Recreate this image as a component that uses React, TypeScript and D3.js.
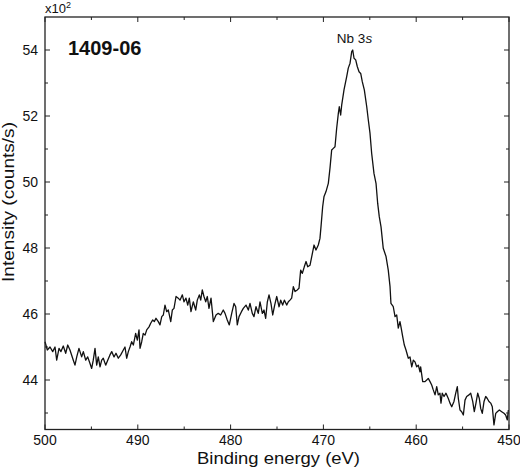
import * as d3 from "d3";

// binding energy (eV), intensity (x10^2 counts/s)
const background: [number, number][] = [
  [500.0, 45.16], [499.75, 44.91], [499.46, 45.0], [499.17, 44.86], [498.92, 45.0], [498.74, 44.6],
  [498.49, 44.96], [498.28, 44.86], [498.03, 45.03], [497.77, 44.81], [497.55, 45.06], [497.31, 44.91],
  [496.95, 44.6], [496.77, 44.45], [496.58, 44.7], [496.34, 44.96], [496.05, 44.7], [495.87, 44.86],
  [495.61, 44.6], [495.4, 44.7], [495.15, 44.5], [494.97, 44.35], [494.8, 44.6], [494.61, 44.96],
  [494.43, 44.45], [494.26, 44.7], [494.07, 44.4], [493.89, 44.6], [493.72, 44.66], [493.46, 44.45],
  [493.24, 44.6], [493.0, 44.76], [492.81, 44.86], [492.56, 44.7], [492.35, 44.81], [492.1, 44.66],
  [491.84, 44.76], [491.56, 44.91], [491.38, 45.0], [491.2, 44.66], [491.02, 44.86], [490.84, 45.0],
  [490.66, 45.16], [490.48, 45.06], [490.23, 45.41], [490.05, 45.21], [489.87, 45.52],
];

const shoulder: [number, number][] = [
  [489.76, 44.96], [489.58, 45.16], [489.41, 45.41], [489.22, 45.36], [489.04, 45.52], [488.79, 45.61],
  [488.61, 45.72], [488.39, 45.82], [488.22, 45.77], [488.04, 45.87], [487.79, 45.77], [487.61, 45.67],
  [487.42, 45.92], [487.25, 45.97], [487.07, 46.27], [486.89, 46.07], [486.71, 46.12], [486.45, 45.77],
  [486.28, 46.12], [486.1, 46.17], [485.88, 46.53], [485.64, 46.48], [485.45, 46.42], [485.2, 46.58],
  [485.02, 46.37], [484.81, 46.48], [484.62, 46.27], [484.45, 46.48], [484.27, 46.07], [484.02, 46.37],
  [483.76, 46.12], [483.59, 46.42], [483.37, 46.58], [483.22, 46.42], [483.05, 46.73], [482.87, 46.53],
  [482.68, 46.37], [482.51, 46.53], [482.33, 46.17], [482.11, 46.48], [481.86, 45.77], [481.57, 45.97],
  [481.33, 46.02], [481.07, 45.97], [480.79, 46.12], [480.6, 46.02], [480.36, 45.82], [480.14, 45.67],
  [479.88, 46.02], [479.63, 46.32], [479.45, 46.22], [479.28, 45.67], [479.09, 45.92],
];

const rise: [number, number][] = [
  [478.83, 46.07], [478.63, 46.17], [478.34, 46.27], [478.09, 46.12], [477.91, 46.32], [477.66, 46.02],
  [477.48, 45.92], [477.26, 46.22], [477.02, 46.02], [476.83, 46.37], [476.58, 46.02], [476.4, 46.12],
  [476.22, 45.87], [476.04, 46.37], [475.86, 46.58], [475.65, 46.32], [475.46, 45.97], [475.25, 46.27],
  [475.03, 46.53], [474.78, 46.22], [474.6, 46.42], [474.39, 46.27], [474.21, 46.42], [473.95, 46.27],
  [473.78, 46.37], [473.6, 46.42], [473.42, 46.48], [473.24, 46.83], [473.06, 46.68], [472.81, 46.73],
  [472.63, 46.78], [472.45, 47.33], [472.27, 47.23], [472.06, 47.43], [471.87, 47.59], [471.69, 47.43],
  [471.44, 47.48], [471.15, 47.89], [471.01, 48.09], [470.8, 47.94], [470.55, 48.09], [470.37, 48.29],
];

const peak: [number, number][] = [
  [470.26, 48.64], [470.08, 49.25], [469.94, 49.55], [469.72, 49.71], [469.47, 49.96], [469.29, 50.42],
  [469.11, 50.97], [468.93, 51.02], [468.75, 51.07], [468.57, 51.63], [468.39, 52.08], [468.29, 52.28],
  [468.14, 52.03], [468.03, 52.33], [467.78, 52.79], [467.49, 53.19], [467.32, 53.45], [467.13, 53.6],
  [466.95, 53.95], [466.84, 54.0], [466.7, 53.75], [466.52, 53.7], [466.35, 53.5], [466.16, 53.34],
  [465.98, 53.29], [465.81, 53.04], [465.59, 52.79], [465.33, 52.28], [465.16, 51.88], [464.98, 51.48],
  [464.8, 50.87], [464.55, 50.26], [464.33, 49.96], [464.15, 49.35], [463.98, 48.95], [463.79, 48.64],
];

const tail: [number, number][] = [
  [463.55, 47.99], [463.25, 47.74], [463.01, 47.33], [462.82, 46.83], [462.72, 46.32], [462.47, 46.22],
  [462.28, 45.92], [462.1, 45.97], [461.93, 45.57], [461.75, 45.77], [461.64, 45.61], [461.45, 45.31],
  [461.28, 45.06], [461.1, 44.91], [460.85, 44.66], [460.67, 44.7], [460.48, 44.4], [460.31, 44.6],
  [460.13, 44.55], [459.95, 44.4], [459.77, 44.45], [459.59, 44.25], [459.52, 44.4], [459.3, 43.95],
  [459.05, 43.95], [458.87, 44.0], [458.7, 44.05], [458.51, 43.95], [458.33, 43.85], [458.16, 43.7],
  [457.97, 43.55], [457.79, 43.8], [457.62, 43.55], [457.44, 43.6], [457.33, 43.3], [457.19, 43.6],
  [457.0, 43.5], [456.79, 43.6], [456.54, 43.44], [456.36, 43.3], [456.17, 43.19], [455.93, 43.35],
  [455.74, 43.6], [455.57, 43.8], [455.46, 43.44], [455.28, 43.09], [455.1, 43.04], [454.92, 42.94],
  [454.74, 43.39], [454.56, 43.5], [454.31, 43.55], [454.13, 43.6], [453.91, 43.35], [453.74, 43.04],
  [453.56, 43.3], [453.37, 43.6], [453.2, 43.44], [453.05, 43.14], [452.88, 42.99], [452.69, 43.35],
  [452.51, 43.5], [452.34, 43.44], [452.16, 43.35], [451.97, 43.3], [451.8, 43.19], [451.62, 42.64],
  [451.43, 42.99], [451.26, 43.04], [451.04, 43.09], [450.79, 43.04], [450.54, 42.99], [450.36, 42.94],
  [450.18, 42.79], [450.07, 43.09],
];

const xMajor = [500, 490, 480, 470, 460, 450];
const xMinor = [495, 485, 475, 465, 455];
const yMajor = [44, 46, 48, 50, 52, 54];
const yMinor = [43, 45, 47, 49, 51, 53];

const W = 520;
const H = 470;
const L = 45, R = 509, T = 17, B = 429.5;
const font = "Arial, 'Liberation Sans', Helvetica, sans-serif";

export default function App() {
  const x = d3.scaleLinear().domain([500, 450]).range([L, R]);
  const y = d3.scaleLinear().domain([42.5, 55]).range([B, T]);
  const data = [...background, ...shoulder, ...rise, ...peak, ...tail];
  const line = d3.line<[number, number]>().x(d => x(d[0])).y(d => y(d[1]));

  const majLen = 5, minLen = 3;

  return (
    <div style={{ position: "fixed", left: 0, top: 0 }}>
      <svg width={W} height={H} style={{ display: "block", background: "#fff" }}>
        <path d={line(data) ?? ""} fill="none" stroke="#111" strokeWidth={1.3} strokeLinejoin="round" />
        <rect x={L} y={T} width={R - L} height={B - T} fill="none" stroke="#222" strokeWidth={1.3} />
        {xMajor.map(v => (
          <g key={"xm" + v}>
            <line x1={x(v)} x2={x(v)} y1={B} y2={B - majLen} stroke="#222" />
            <line x1={x(v)} x2={x(v)} y1={T} y2={T + majLen} stroke="#222" />
            <text x={x(v)} y={445} textAnchor="middle" fontFamily={font} fontSize={14} fill="#111">{v}</text>
          </g>
        ))}
        {xMinor.map(v => (
          <g key={"xn" + v}>
            <line x1={x(v)} x2={x(v)} y1={B} y2={B - minLen} stroke="#222" />
            <line x1={x(v)} x2={x(v)} y1={T} y2={T + minLen} stroke="#222" />
          </g>
        ))}
        {yMajor.map(v => (
          <g key={"ym" + v}>
            <line x1={L} x2={L + majLen} y1={y(v)} y2={y(v)} stroke="#222" />
            <line x1={R} x2={R - majLen} y1={y(v)} y2={y(v)} stroke="#222" />
            <text x={38} y={y(v)} dy="0.36em" textAnchor="end" fontFamily={font} fontSize={14} fill="#111">{v}</text>
          </g>
        ))}
        {yMinor.map(v => (
          <g key={"yn" + v}>
            <line x1={L} x2={L + minLen} y1={y(v)} y2={y(v)} stroke="#222" />
            <line x1={R} x2={R - minLen} y1={y(v)} y2={y(v)} stroke="#222" />
          </g>
        ))}
        <text x={L} y={13} fontFamily={font} fontSize={13} fill="#111">
          x10<tspan fontSize={9} dy={-5}>2</tspan>
        </text>
        <text x={68} y={55} fontFamily={font} fontSize={20} fontWeight="bold" fill="#111">1409-06</text>
        <text x={354.5} y={43} textAnchor="middle" fontFamily={font} fontSize={13.5} fill="#111">
          Nb 3<tspan fontStyle="italic">s</tspan>
        </text>
        <text x={278.5} y={464} textAnchor="middle" fontFamily={font} fontSize={17} fill="#111"
          textLength={163} lengthAdjust="spacingAndGlyphs">Binding energy (eV)</text>
        <text transform="translate(14,202) rotate(-90)" textAnchor="middle" fontFamily={font} fontSize={17} fill="#111"
          textLength={160} lengthAdjust="spacingAndGlyphs">Intensity (counts/s)</text>
      </svg>
    </div>
  );
}
